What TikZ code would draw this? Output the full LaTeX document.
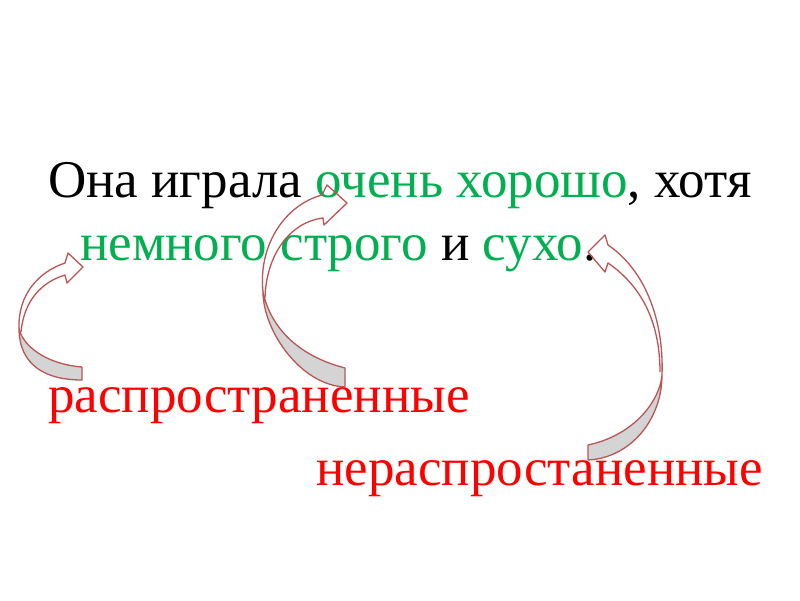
\documentclass[tikz,border=0pt]{standalone}
\usepackage{fontspec}
\setmainfont{Liberation Serif}
\definecolor{grn}{RGB}{0,176,80}
\definecolor{rd}{RGB}{255,0,0}
\definecolor{arrline}{RGB}{185,85,85}
\definecolor{arrfill}{RGB}{212,212,212}
\begin{document}
\begin{tikzpicture}[x=1pt,y=-1pt,
  txt/.style={inner sep=0pt,anchor=base west,font=\fontsize{53}{53}\selectfont},
  redtxt/.style={txt,text=rd},
  arrback/.style={draw=arrline,line width=1.3pt,fill=arrfill,line join=round},
  arrfront/.style={draw=arrline,line width=1.3pt,line join=round}]
\useasboundingbox[fill=white] (0,0) rectangle (800,600);
% texts
\node[txt] (l1) at (48,197) {Она играла \textcolor{grn}{очень хорошо}, хотя};
\node[txt] (l2) at (80,260) {\textcolor{grn}{немного строго} и \textcolor{grn}{сухо}.};
\node[redtxt] (l3) at (48,412) {распространенные};
\node[redtxt] (l4) at (316,485) {нераспростаненные};
% arrow 1
\draw[arrback] (82,367) -- (82,380) .. controls (45,380) and (19,365) .. (19,328)
  .. controls (22,345) and (45,364) .. (82,367) -- cycle;
\draw[arrfront] (19,328) .. controls (18,295) and (38,272) .. (65,263)
  -- (68,253) -- (83,267) -- (67,283) -- (65,275)
  .. controls (42,282) and (24,300) .. (21,332);
% arrow 2
\draw[arrback] (345,368) -- (345,387) .. controls (300,385) and (263,330) .. (263,292)
  .. controls (270,325) and (295,355) .. (345,368) -- cycle;
\draw[arrfront] (263,292) .. controls (258,245) and (285,205) .. (322,195)
  -- (327,185) -- (347,203) -- (324,225) -- (323,218)
  .. controls (290,222) and (266,255) .. (265,298);
% arrow 3
\draw[arrback] (588,445) -- (588,460) .. controls (630,458) and (662,420) .. (662,375)
  .. controls (660,400) and (635,435) .. (588,445) -- cycle;
\draw[arrfront] (662,375) .. controls (664,320) and (645,270) .. (608,245)
  -- (605,235) -- (588,252) -- (605,272) -- (608,263)
  .. controls (640,285) and (660,320) .. (660,372);
\end{tikzpicture}
\end{document}
